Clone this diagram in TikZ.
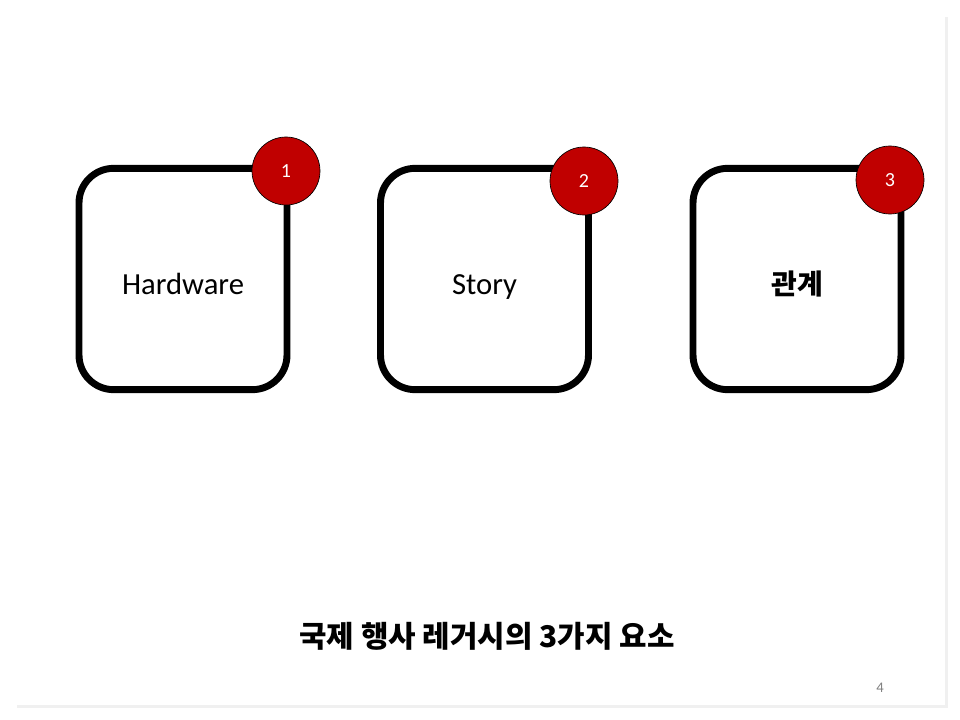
\documentclass[tikz,border=0pt]{standalone}
\usepackage{fontspec}
\setmainfont{Carlito}
\newfontfamily\krfont{Noto Sans CJK KR}
\definecolor{badgered}{RGB}{192,0,0}
\begin{document}
\begin{tikzpicture}[x=0.75pt,y=0.75pt,yscale=-1,xscale=1,
  card/.style={draw=black,line width=5.2pt,rounded corners=26pt,minimum width=156pt,minimum height=166pt,text height=27pt,text depth=4pt,font=\fontsize{23}{26}\selectfont},
  badge/.style={circle,draw=black,line width=0.5pt,fill=badgered,minimum size=51pt,inner sep=0pt,text=white,font=\fontsize{15}{17}\selectfont}]

\useasboundingbox (0,0) rectangle (960,720);
% slide
\fill[black!6] (17,17) rectangle (948,708);
\fill[white] (15,15) rectangle (945,705);

% cards
\node[card] (hw) at (183,279) {Hardware};
\node[card] (story) at (484.5,279) {Story};
\node[card] (rel) at (797,279) {\krfont\bfseries\fontsize{21}{24}\selectfont 관계};

% badges
\node[badge] (b1) at (286,171) {1};
\node[badge] (b2) at (584,181) {2};
\node[badge] (b3) at (890,180) {3};

\node (title) at (487,636) {\krfont\bfseries\fontsize{22.4}{26}\selectfont 국제 행사 레거시의 3가지 요소};
\node[text=black!50,font=\fontsize{11}{13}\selectfont] (page) at (880,688) {4};

\end{tikzpicture}
\end{document}
